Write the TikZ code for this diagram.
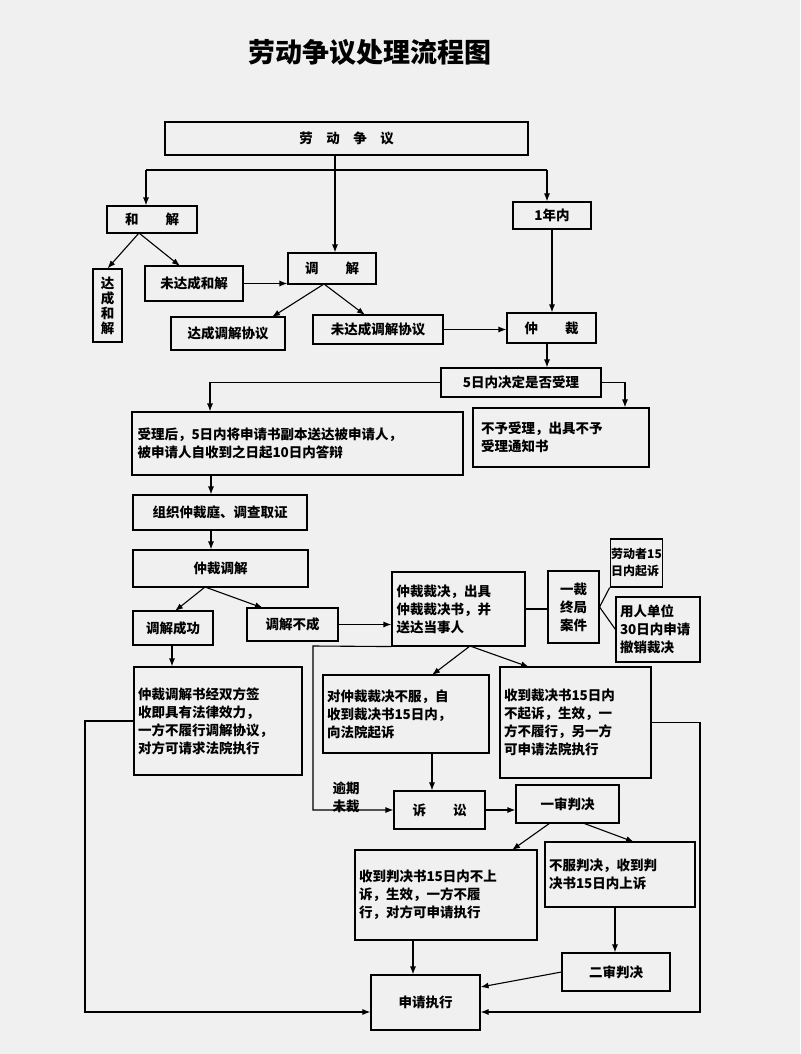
\documentclass[tikz,border=0pt]{standalone}
\usepackage{fontspec}
\setmainfont{Noto Sans CJK SC}
\usetikzlibrary{arrows.meta}

\tikzset{
  box/.style={draw, line width=1.1pt, inner sep=2pt, font=\fontsize{13.5}{18}\selectfont\bfseries, align=left},
  arr/.style={line width=1.1pt, -{Latex[length=8pt,width=6pt]}},
  ln/.style={line width=1.1pt},
}

\begin{document}
\begin{tikzpicture}[x=1pt,y=-1pt]
        \fill[gray!12] (0,0) rectangle (800,1054);
        \useasboundingbox (0,0) rectangle (800,1054);

        \node[font=\fontsize{27}{30}\selectfont\bfseries] (title) at (370,52) {劳动争议处理流程图};

        % first row
        \node[box, minimum width=363, minimum height=33] (LD) at (346.5,138.5) {劳\quad 动\quad 争\quad 议};
        \node[box, minimum width=90, minimum height=27] (HJ) at (152,219.5) {和\qquad 解};
        \node[box, minimum width=78, minimum height=27] (YN) at (552,215.5) {1年内};
        \node[box, minimum width=29, minimum height=73, align=center, font=\fontsize{13.5}{15}\selectfont\bfseries] (DCHJ) at (107.5,305.5) {达\\成\\和\\解};
        \node[box, minimum width=98, minimum height=35] (WDHJ) at (194,283.5) {未达成和解};
        \node[box, minimum width=88, minimum height=31] (TJ) at (332,268.5) {调\qquad 解};
        \node[box, minimum width=114, minimum height=33] (DCXY) at (228,333.5) {达成调解协议};
        \node[box, minimum width=130, minimum height=29] (WDXY) at (378,329.5) {未达成调解协议};
        \node[box, minimum width=89, minimum height=30] (ZC) at (551.5,328) {仲\qquad 裁};
        \node[box, minimum width=160, minimum height=29] (SL) at (521,382.5) {5日内决定是否受理};
        \node[box, minimum width=331, minimum height=63, text width=320] (SLH) at (297.5,443.5) {受理后，5日内将申请书副本送达被申请人，\\被申请人自收到之日起10日内答辩};
        \node[box, minimum width=176, minimum height=59, text width=160] (BY) at (561,437.5) {不予受理，出具不予\\受理通知书};

        % arbitration
        \node[box, minimum width=174, minimum height=35] (ZZ) at (220,512.5) {组织仲裁庭、调查取证};
        \node[box, minimum width=175, minimum height=37] (ZCTJ) at (220.5,568.5) {\hspace*{3em}仲裁调解\hspace*{3em}};
        \node[box, minimum width=80, minimum height=34] (CG) at (173,628) {调解成功};
        \node[box, minimum width=91, minimum height=33] (BC) at (292.5,624.5) {调解不成};
        \node[box, minimum width=133, minimum height=74, text width=124] (CJ) at (458.5,609) {仲裁裁决，出具\\仲裁裁决书，并\\送达当事人};
        \node[box, minimum width=51, minimum height=72, align=center] (YC) at (573.5,607) {一裁\\终局\\案件};
        \node[box, minimum width=52, minimum height=48, inner sep=1pt, font=\fontsize{12}{17}\selectfont\bfseries] (LDZ) at (636.5,563) {劳动者15\\日内起诉};
        \node[box, minimum width=84, minimum height=65, text width=76] (YR) at (658,629.5) {用人单位\\30日内申请\\撤销裁决};
        \node[box, minimum width=168, minimum height=108, text width=160] (TJS) at (218,721) {仲裁调解书经双方签\\收即具有法律效力，\\一方不履行调解协议，\\对方可请求法院执行};
        \node[box, minimum width=166, minimum height=78, text width=158] (BF) at (406,714) {对仲裁裁决不服，自\\收到裁决书15日内，\\向法院起诉};
        \node[box, minimum width=151, minimum height=111, text width=143] (SD) at (575.5,722.5) {收到裁决书15日内\\不起诉，生效，一\\方不履行，另一方\\可申请法院执行};

        % litigation
        \node[box, minimum width=91, minimum height=38] (SS) at (439.5,810) {诉\qquad 讼};
        \node[box, minimum width=103, minimum height=38] (YS) at (567.5,804) {一审判决};
        \node[box, minimum width=182, minimum height=90, text width=174] (BSS) at (446,895) {收到判决书15日内不上\\诉，生效，一方不履\\行，对方可申请执行};
        \node[box, minimum width=150, minimum height=65, text width=142] (BFP) at (620,874.5) {不服判决，收到判\\决书15日内上诉};
        \node[box, minimum width=108, minimum height=38] (ES) at (616,972) {二审判决};
        \node[box, minimum width=109, minimum height=55] (SQ) at (425.5,1002.5) {申请执行};
        \node[font=\fontsize{13.5}{18}\selectfont\bfseries, align=left] (YQ) at (346,797) {逾期\\未裁};

        \coordinate (top) at (335,170);
        \draw[ln] (LD.south -| top) -- (top);
        \draw[ln] (146,170) -- (547,170);
        \draw[arr] (146,170) -- (HJ.north -| 146,0);
        \draw[arr] (top) -- (TJ.north -| top);
        \draw[arr] (547,170) -- (YN.north -| 547,0);
        \draw[arr] (139,233) -- (DCHJ.north);
        \draw[arr] (139,233) -- (180,266);
        \draw[arr] (WDHJ.east) -- (TJ.west |- WDHJ.east);
        \draw[arr] (324,284) -- (272,317);
        \draw[arr] (324,284) -- (365,315);
        \draw[arr] (YN.south) -- (ZC.north -| YN.south);
        \draw[arr] (WDXY.east) -- (ZC.west |- WDXY.east);
        \draw[arr] (ZC.south -| 547,0) -- (SL.north -| 547,0);
        \draw[arr] (SL.west) -| (SLH.north -| 210,0);
        \draw[arr] (SL.east) -| (BY.north -| 625,0);
        \draw[arr] (SLH.south -| 211,0) -- (ZZ.north -| 211,0);
        \draw[arr] (ZZ.south -| 211,0) -- (ZCTJ.north -| 211,0);
        \draw[arr] (205,587) -- (175,611);
        \draw[arr] (205,587) -- (263,608);
        \draw[arr] (BC.east) -- (CJ.west |- BC.east);
        \draw[ln] (CJ.east) -- (YC.west |- CJ.east);
        \draw[ln] (YC.east) -- (LDZ.south west);
        \draw[ln] (YC.east) -- (YR.west);
        \draw[arr] (CG.south -| 172,0) -- (TJS.north -| 172,0);
        \draw[arr] (470,646) -- (432,675);
        \draw[arr] (470,646) -- (529,667);
        \draw[arr] (CJ.south west) -- (313,646) |- (SS.west);
        \draw[arr] (BF.south -| 432,0) -- (SS.north -| 432,0);
        \draw[arr] (SS.east) -- (YS.west |- SS.east);
        \draw[arr] (550,823) -- (512,850);
        \draw[arr] (583,823) -- (634,842);
        \draw[arr] (BSS.south -| 413,0) -- (SQ.north -| 413,0);
        \draw[arr] (BFP.south -| 615,0) -- (ES.north -| 615,0);
        \draw[arr] (ES.west) -- (SQ.east |- 0,987);
        \draw[arr] (TJS.west) -| (85,1012) -- (SQ.west |- 0,1012);
        \draw[arr] (SD.east) -| (700,1012) -- (SQ.east |- 0,1012);
    \end{tikzpicture}
\end{document}
